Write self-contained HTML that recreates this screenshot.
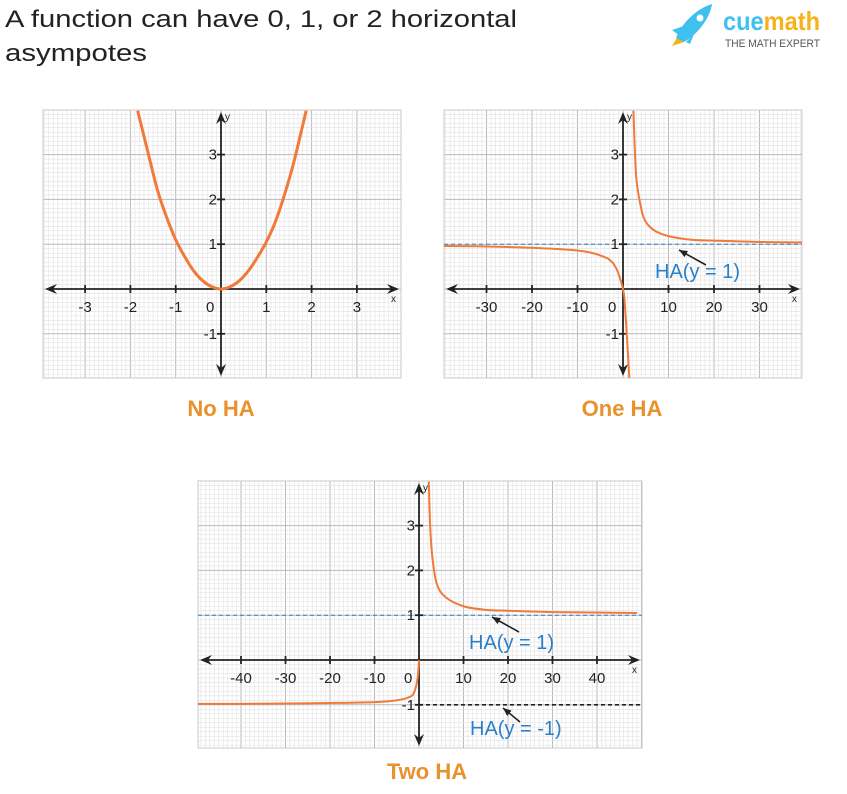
<!DOCTYPE html>
<html><head><meta charset="utf-8"><style>
body{margin:0;background:#fff;width:847px;height:789px;overflow:hidden;font-family:"Liberation Sans",sans-serif}
</style></head><body>
<svg id="s" width="847" height="789" viewBox="0 0 847 789" xmlns="http://www.w3.org/2000/svg">
<text x="5" y="27" font-size="24" fill="#222" textLength="512" lengthAdjust="spacingAndGlyphs">A function can have 0, 1, or 2 horizontal</text>
<text x="5" y="61" font-size="24" fill="#222" textLength="142" lengthAdjust="spacingAndGlyphs">asympotes</text>
<g>
<path d="M672 46 L678 36 L684 42 Z" fill="#f6b21b"/>
<path d="M676 38 C682 22 698 8 712 4 C710 18 698 34 684 42 Z" fill="#3fc1ef"/>
<path d="M672 30 L684 26 L680 36 Z M690 44 L694 34 L686 42 Z" fill="#3fc1ef"/>
<circle cx="700" cy="18" r="3.5" fill="#fff"/>
<text x="723" y="30" font-size="26" font-weight="bold" fill="#3fc1ef" textLength="97" lengthAdjust="spacingAndGlyphs">cue<tspan fill="#f6b21b">math</tspan></text>
<text x="725" y="47" font-size="11" fill="#555" textLength="95" lengthAdjust="spacingAndGlyphs">THE MATH EXPERT</text>
</g>
<text x="221" y="416" font-size="22" font-weight="bold" fill="#e8912d" text-anchor="middle">No HA</text>
<text x="622" y="416" font-size="22" font-weight="bold" fill="#e8912d" text-anchor="middle">One HA</text>
<text x="427" y="779" font-size="22" font-weight="bold" fill="#e8912d" text-anchor="middle">Two HA</text>
</svg>
<script>
const parabolaX=[-1.84,-1.6,-1.4,-1.2,-1,-0.8,-0.6,-0.4,-0.2,0,0.2,0.4,0.6,0.8,1,1.2,1.4,1.6,1.88];
const parabolaY=[3.98,3.0,2.2,1.6,1.1,0.72,0.4,0.18,0.05,0,0.05,0.18,0.4,0.7,1.05,1.5,2.1,2.8,3.98];
const oneRightX=[2.3,2.6,3,4,5,7,10,15,20,30,40];
const oneRightY=[3.98,3.1,2.4,1.8,1.5,1.3,1.18,1.1,1.08,1.05,1.04];
const oneLeftX=[-40,-30,-20,-10,-5,-2,0,0.5,1,1.4];
const oneLeftY=[0.96,0.95,0.92,0.86,0.75,0.55,0,-0.5,-1.3,-2];
const twoRightX=[2.2,2.5,3,4,6,10,15,20,30,49];
const twoRightY=[3.98,3,2.3,1.7,1.4,1.2,1.12,1.1,1.07,1.05];
const twoLeftX=[-50,-40,-30,-20,-10,-5,-2,-1,-0.3,0];
const twoLeftY=[-0.98,-0.98,-0.97,-0.96,-0.94,-0.9,-0.82,-0.7,-0.4,0];
const ticks1X=[-3,-2,-1,1,2,3];
const ticks1Y=[3,2,1,-1];
const ticks2X=[-30,-20,-10,10,20,30];
const ticks3X=[-40,-30,-20,-10,10,20,30,40];
const NS="http://www.w3.org/2000/svg";
const svg=document.getElementById('s');
function mk(t,a,p){const e=document.createElementNS(NS,t);for(const k in a)e.setAttribute(k,a[k]);(p||svg).appendChild(e);return e;}
function path(pts){let d='M'+pts[0][0]+' '+pts[0][1];for(let i=0;i<pts.length-1;i++){const p0=pts[i-1]||pts[i],p1=pts[i],p2=pts[i+1],p3=pts[i+2]||p2;
d+=' C'+(p1[0]+(p2[0]-p0[0])/6)+' '+(p1[1]+(p2[1]-p0[1])/6)+' '+(p2[0]-(p3[0]-p1[0])/6)+' '+(p2[1]-(p3[1]-p1[1])/6)+' '+p2[0]+' '+p2[1];}return d;}
function graph(cfg){
 const g=mk('g',{});
 
 
 const [L,T,R,B]=cfg.box,ox=cfg.ox,oy=cfg.oy,sx=cfg.sx,sy=cfg.sy;
 const X=v=>ox+v*sx,Y=v=>oy-v*sy;
 const cid='c'+cfg.name;const cp=mk('clipPath',{id:cid},g);mk('rect',{x:L,y:T,width:R-L,height:B-T},cp);
 const gr=mk('g',{'clip-path':'url(#'+cid+')'},g);
 
 const mx=cfg.minor,Mx=cfg.major;
 for(let v=Math.ceil((L-ox)/sx/mx)*mx;X(v)<=R;v+=mx){const maj=Math.abs(v/Mx-Math.round(v/Mx))<1e-6;mk('line',{x1:X(v),x2:X(v),y1:T,y2:B,stroke:maj?'#b9b9b9':'#e2e2e2','stroke-width':maj?1:0.6},gr);}
 for(let v=Math.ceil((oy-B)/sy/0.1)*0.1;Y(v)>=T;v+=0.1){const maj=Math.abs(v-Math.round(v))<1e-6;mk('line',{y1:Y(v),y2:Y(v),x1:L,x2:R,stroke:maj?'#b9b9b9':'#e2e2e2','stroke-width':maj?1:0.6},gr);}
 mk('rect',{x:L,y:T,width:R-L,height:B-T,fill:'none',stroke:'#c8c8c8'},g);
 (cfg.asym||[]).forEach(a=>{const l=mk('line',{x1:a.from!=null?X(a.from):L,x2:R,y1:Y(a.y),y2:Y(a.y),stroke:a.c,'stroke-width':a.w,'stroke-dasharray':a.d},g);});
 const ax=mk('g',{stroke:'#222','stroke-width':1.8,fill:'#222'},g);
 
 mk('line',{x1:L+4,x2:R-4,y1:oy,y2:oy},ax);mk('line',{x1:ox,x2:ox,y1:T+4,y2:B-4},ax);
 mk('path',{d:`M${L+2} ${oy} l12 -5 l-4 5 l4 5z M${R-2} ${oy} l-12 -5 l4 5 l-4 5z M${ox} ${T+2} l-5 12 l5 -4 l5 4z M${ox} ${B-2} l-5 -12 l5 4 l5 -4z`,stroke:'none'},ax);
 cfg.tx.forEach(v=>{mk('line',{x1:X(v),x2:X(v),y1:oy-4,y2:oy+4},ax);const t=mk('text',{x:X(v),y:oy+23,'font-size':15,'text-anchor':'middle',fill:'#222',stroke:'none'},g);t.textContent=v;});
 cfg.ty.forEach(v=>{mk('line',{x1:ox-4,x2:ox+4,y1:Y(v),y2:Y(v)},ax);const t=mk('text',{x:ox-4,y:Y(v)+5,'font-size':15,'text-anchor':'end',fill:'#222',stroke:'none'},g);t.textContent=v;});
 let t=mk('text',{x:ox-15,y:oy+23,'font-size':15,fill:'#222'},g);t.textContent='0';
 t=mk('text',{x:R-10,y:oy+13,'font-size':10,fill:'#222'},g);t.textContent='x';
 t=mk('text',{x:ox+4,y:T+10,'font-size':10,fill:'#222'},g);t.textContent='y';
 const cv=mk('g',{'clip-path':'url(#'+cid+')'},g);
 cfg.curves.forEach((c,i)=>{const p=mk('path',{d:path(c[0].map((v,j)=>[X(v),Y(c[1][j])])),fill:'none',stroke:'#f07a3a','stroke-width':cfg.cw},cv);});
 (cfg.notes||[]).forEach(n=>{mk('path',{d:`M${n.ax} ${n.ay} L${n.bx} ${n.by}`,stroke:'#222','stroke-width':1.6},g);
  const ang=Math.atan2(n.by-n.ay,n.bx-n.ax);const h=(a)=>[n.bx-9*Math.cos(ang+a),n.by-9*Math.sin(ang+a)];const p1=h(0.4),p2=h(-0.4);
  mk('path',{d:`M${n.bx} ${n.by} L${p1[0]} ${p1[1]} L${p2[0]} ${p2[1]}Z`,fill:'#222'},g);
  const tt=mk('text',{x:n.tx,y:n.ty,'font-size':20,fill:'#2a7fc9'},g);tt.textContent=n.text;});
}
graph({name:'graph-no-ha',box:[43,110,401,378],ox:221,oy:289,sx:45.3,sy:44.8,minor:0.1,major:1,tx:ticks1X,ty:ticks1Y,cw:3,curves:[[parabolaX,parabolaY]]});
graph({name:'graph-one-ha',box:[444,110,802,378],ox:623,oy:289,sx:4.55,sy:44.8,minor:1,major:10,tx:ticks2X,ty:ticks1Y,cw:2,
 curves:[[oneRightX,oneRightY],[oneLeftX,oneLeftY]],asym:[{y:1,c:'#2a7fc9',w:1,d:'4 3'}],
 notes:[{ax:706,ay:265,bx:679,by:250,tx:655,ty:278,text:'HA(y = 1)'}]});
graph({name:'graph-two-ha',box:[198,481,642,748],ox:419,oy:660,sx:4.45,sy:44.8,minor:1,major:10,tx:ticks3X,ty:ticks1Y,cw:2,
 curves:[[twoRightX,twoRightY],[twoLeftX,twoLeftY]],asym:[{y:1,c:'#2a7fc9',w:1,d:'4 3'},{y:-1,c:'#222',w:1.6,d:'4 3',from:0}],
 notes:[{ax:519,ay:632,bx:492,by:617,tx:469,ty:649,text:'HA(y = 1)'},{ax:520,ay:722,bx:503,by:708,tx:470,ty:735,text:'HA(y = -1)'}]});
</script>
</body></html>
